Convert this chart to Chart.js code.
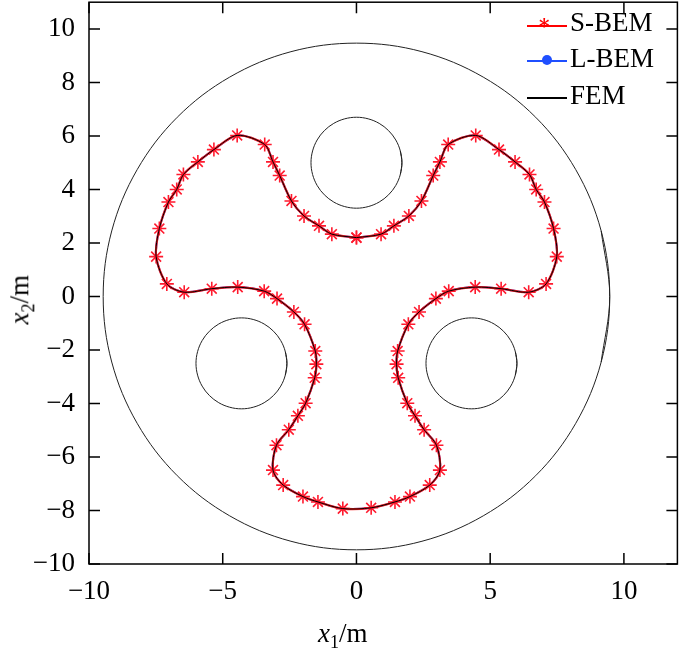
<!DOCTYPE html>
<html><head><meta charset="utf-8">
<script src="https://cdn.jsdelivr.net/npm/chart.js@4/dist/chart.umd.min.js"></script>
<style>
body{margin:0;background:#fff;width:680px;height:664px;overflow:hidden;font-family:"DejaVu Serif","Liberation Serif",serif;position:relative;}
#c{position:absolute;left:0;top:-20px;}
.t{position:absolute;font-family:"Liberation Serif","DejaVu Serif",serif;font-size:27px;color:#000;white-space:nowrap;}
.leg{position:absolute;left:527px;width:40px;height:0;}
</style></head><body>
<canvas id="c" width="686" height="684"></canvas>
<div class="t" style="left:318px;top:618px;"><i>x</i><sub style="font-size:18px">1</sub>/m</div>
<div class="t" style="left:-38px;top:282px;width:120px;text-align:center;transform:rotate(-90deg);"><i>x</i><sub style="font-size:18px">2</sub>/m</div>
<div class="leg" style="top:25px;border-top:2px solid #ff0000"></div>
<div class="leg" style="top:60px;border-top:2px solid #1f4fff"></div>
<div class="leg" style="top:97px;border-top:2px solid #000"></div>
<div style="position:absolute;left:539px;top:18px;color:#ff0000;font-size:20px;line-height:16px;font-weight:bold">*</div>
<div style="position:absolute;left:542px;top:55px;width:10px;height:10px;border-radius:50%;background:#1f4fff"></div>
<div class="t" style="left:570px;top:7px;">S-BEM</div>
<div class="t" style="left:570px;top:43px;">L-BEM</div>
<div class="t" style="left:570px;top:80px;">FEM</div>
<script>
const xTicks=[-10,-5,0,5,10];
const yTicks=[-10,-8,-6,-4,-2,0,2,4,6,8,10];
const outerCircle=[[9.15,-2.45],[9.47,0],[9.15,2.45],[8.20,4.74],[6.70,6.70],[4.74,8.20],[2.45,9.15],[0,9.47],[-2.45,9.15],[-4.74,8.20],[-6.70,6.70],[-8.20,4.74],[-9.15,2.45],[-9.47,0],[-9.15,-2.45],[-8.20,-4.74],[-6.70,-6.70],[-4.74,-8.20],[-2.45,-9.15],[0,-9.47],[2.45,-9.15],[4.74,-8.20],[6.70,-6.70],[8.20,-4.74],[9.15,-2.45],[9.47,0],[9.15,2.45]];
const topHole=[[1.64,4.56],[1.70,5],[1.64,5.44],[1.47,5.85],[1.20,6.20],[0.85,6.47],[0.44,6.64],[0,6.70],[-0.44,6.64],[-0.85,6.47],[-1.20,6.20],[-1.47,5.85],[-1.64,5.44],[-1.70,5],[-1.64,4.56],[-1.47,4.15],[-1.20,3.80],[-0.85,3.53],[-0.44,3.36],[0,3.30],[0.44,3.36],[0.85,3.53],[1.20,3.80],[1.47,4.15],[1.64,4.56],[1.70,5],[1.64,5.44]];
const leftHole=[[-2.66,-2.94],[-2.60,-2.5],[-2.66,-2.06],[-2.83,-1.65],[-3.10,-1.30],[-3.45,-1.03],[-3.86,-0.86],[-4.30,-0.80],[-4.74,-0.86],[-5.15,-1.03],[-5.50,-1.30],[-5.77,-1.65],[-5.94,-2.06],[-6.00,-2.5],[-5.94,-2.94],[-5.77,-3.35],[-5.50,-3.70],[-5.15,-3.97],[-4.74,-4.14],[-4.30,-4.20],[-3.86,-4.14],[-3.45,-3.97],[-3.10,-3.70],[-2.83,-3.35],[-2.66,-2.94],[-2.60,-2.5],[-2.66,-2.06]];
const rightHole=[[5.94,-2.94],[6.00,-2.5],[5.94,-2.06],[5.77,-1.65],[5.50,-1.30],[5.15,-1.03],[4.74,-0.86],[4.30,-0.80],[3.86,-0.86],[3.45,-1.03],[3.10,-1.30],[2.83,-1.65],[2.66,-2.06],[2.60,-2.5],[2.66,-2.94],[2.83,-3.35],[3.10,-3.70],[3.45,-3.97],[3.86,-4.14],[4.30,-4.20],[4.74,-4.14],[5.15,-3.97],[5.50,-3.70],[5.77,-3.35],[5.94,-2.94],[6.00,-2.5],[5.94,-2.06]];
const lobe=[[0,2.2],[-0.92,2.33],[-1.40,2.64],[-1.96,3.01],[-2.43,3.57],[-2.87,4.52],[-3.12,5.03],[-3.43,5.68],[-4.46,6.02],[-5.33,5.49],[-5.93,5.03],[-6.47,4.56],[-6.72,4.0],[-7.03,3.53],[-7.37,2.54],[-7.49,1.49],[-7.09,0.47],[-6.44,0.16],[-5.41,0.29],[-4.44,0.35],[-3.45,0.2],[-2.97,-0.08],[-2.34,-0.58],[-1.94,-1.04],[-1.54,-2.04],[-1.50,-2.53],[-1.56,-3.04],[-1.90,-3.99],[-2.19,-4.46],[-2.53,-4.98],[-2.99,-5.56],[-3.12,-6.49],[-2.74,-7.05],[-2.0,-7.48],[-1.44,-7.68],[-0.51,-7.93],[0.55,-7.9],[1.44,-7.68],[2.0,-7.48],[2.74,-7.05],[3.12,-6.49],[2.99,-5.56],[2.53,-4.98],[2.19,-4.46],[1.90,-3.99],[1.56,-3.04],[1.50,-2.53],[1.54,-2.04],[1.94,-1.04],[2.34,-0.58],[2.97,-0.08],[3.45,0.2],[4.44,0.35],[5.41,0.29],[6.44,0.16],[7.09,0.47],[7.49,1.49],[7.37,2.54],[7.03,3.53],[6.72,4.0],[6.47,4.56],[5.93,5.03],[5.33,5.49],[4.46,6.02],[3.43,5.68],[3.12,5.03],[2.87,4.52],[2.43,3.57],[1.96,3.01],[1.40,2.64],[0.92,2.33],[0,2.2]];
const pts=a=>a.map(p=>({x:p[0],y:p[1]}));
const geom=(a)=>({data:pts(a),showLine:true,borderColor:'#222',borderWidth:1,pointRadius:0,tension:0.35,order:3});
const frame={id:'frame',afterDraw(ch){const {ctx,chartArea:a,scales:{x,y}}=ch;ctx.save();ctx.strokeStyle='#000';ctx.lineWidth=1.5;ctx.strokeRect(a.left,a.top,a.right-a.left,a.bottom-a.top);
ctx.beginPath();xTicks.forEach(v=>{const p=x.getPixelForValue(v);ctx.moveTo(p,a.bottom);ctx.lineTo(p,a.bottom-11);ctx.moveTo(p,a.top);ctx.lineTo(p,a.top+11);});
yTicks.forEach(v=>{const p=y.getPixelForValue(v);ctx.moveTo(a.left,p);ctx.lineTo(a.left+11,p);ctx.moveTo(a.right,p);ctx.lineTo(a.right-11,p);});ctx.stroke();ctx.restore();}};
new Chart(document.getElementById('c'),{type:'scatter',
data:{datasets:[
{label:'S-BEM',data:pts(lobe),showLine:true,borderColor:'#ff2020',borderWidth:2.2,pointStyle:'star',pointRadius:7,pointBorderColor:'#ff1a2e',pointBorderWidth:1.6,tension:0.3,order:1},
{label:'L-BEM',data:pts(lobe),showLine:true,borderColor:'#1f4fff',borderWidth:2,pointRadius:0,tension:0.3,order:2},
{label:'FEM',data:pts(lobe),showLine:true,borderColor:'#000',borderWidth:1,pointRadius:0,tension:0.3,order:0},
geom(outerCircle),geom(topHole),geom(leftHole),geom(rightHole)]},
options:{responsive:false,animation:false,layout:{padding:{top:0,right:0}},
plugins:{legend:{display:false},tooltip:{enabled:false}},
scales:{x:{min:-10,max:12,afterFit(s){s.height=100;},afterBuildTicks(s){s.ticks=xTicks.map(v=>({value:v}));},grid:{display:false},border:{display:false},
ticks:{color:'#000',padding:4,font:{family:'Liberation Serif',size:27},callback:v=>String(v).replace('-','\u2212')}},
y:{min:-10,max:11,afterFit(s){s.width=89;},afterBuildTicks(s){s.ticks=yTicks.map(v=>({value:v}));},grid:{display:false},border:{display:false},
ticks:{color:'#000',padding:6,font:{family:'Liberation Serif',size:27},callback:v=>String(v).replace('-','\u2212')}}}},
plugins:[frame]});
</script></body></html>
